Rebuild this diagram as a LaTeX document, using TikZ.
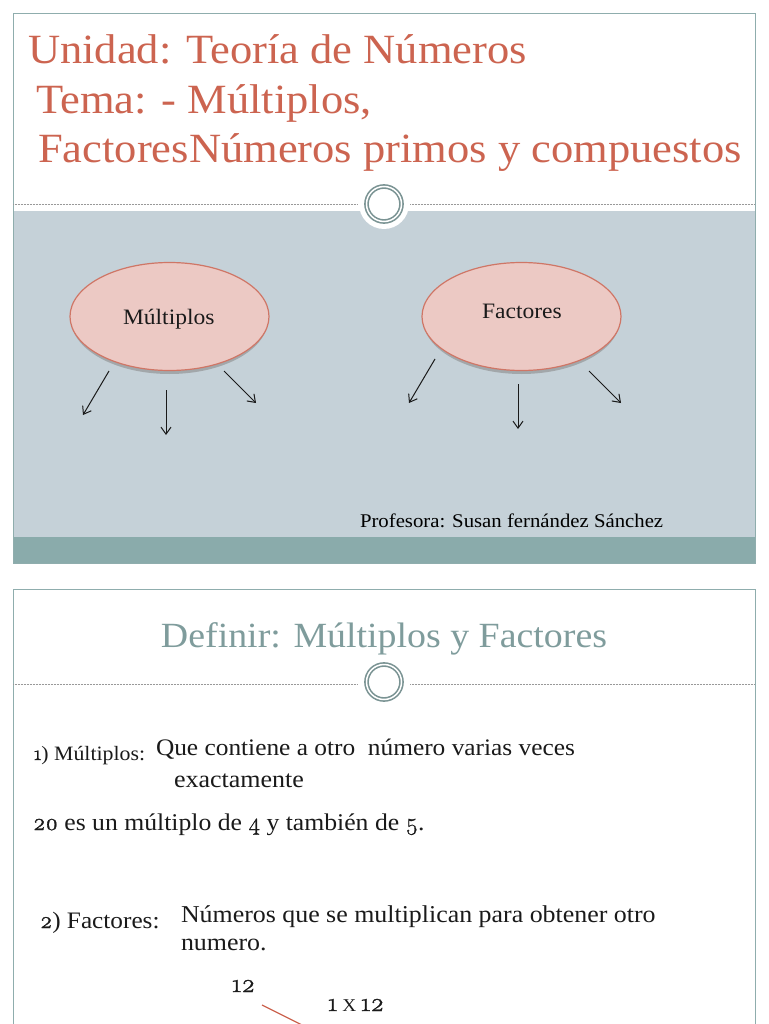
\documentclass[tikz,border=0pt]{standalone}
\usepackage{fontspec}
\setmainfont{Liberation Serif}[FakeStretch=1.07]
\newfontfamily\lmold{Latin Modern Roman}[Numbers=OldStyle,FakeBold=1.2]
\usetikzlibrary{arrows.meta,shapes.geometric}
\definecolor{titlered}{HTML}{CC6450}
\definecolor{titleteal}{HTML}{7F9C9C}
\definecolor{framecol}{HTML}{8FADAD}
\definecolor{panel}{HTML}{C5D1D8}
\definecolor{band}{HTML}{8AABAB}
\definecolor{ovalfill}{HTML}{ECC9C4}
\definecolor{ovaledge}{HTML}{CF7666}
\definecolor{ink}{HTML}{1A1A1A}
\newcommand{\onum}[1]{{\lmold #1}}
\newcommand{\bnum}[1]{{\fontsize{26}{26}\lmold #1}}
\tikzset{
  slideframe/.style={draw=framecol,line width=0.8pt,fill=white},
  dotline/.style={draw=black!40,line width=0.5pt,densely dotted},
  halo/.style={circle,fill=white,minimum size=50pt,inner sep=0pt},
  ring/.style={circle,draw=framecol!85!black,line width=1.6pt,double=white,double distance=1.5pt,fill=white,minimum size=#1,inner sep=0pt},
  oval/.style={ellipse,fill=ovalfill,draw=ovaledge,line width=1.2pt,minimum width=199pt,minimum height=108pt,inner sep=0pt},
  ovalshadow/.style={ellipse,fill=black!45,minimum width=197pt,minimum height=110pt,inner sep=0pt,opacity=.6},
  txt/.style={anchor=base west,inner sep=0pt,outer sep=0pt,text=ink},
  bigred/.style={anchor=base west,inner sep=0pt,text=titlered,font=\fontsize{41.6}{41.6}\selectfont},
  blackarrow/.style={draw=ink,line width=1pt,-{Straight Barb[length=7pt,width=10pt]}},
}
\begin{document}
\begin{tikzpicture}[x=1pt,y=-1pt]
\useasboundingbox (0,0) rectangle (768,1024);
\clip (0,0) rectangle (768,1024);
% slide 1
\path[slideframe] (13,13) rectangle (755,563);
\fill[panel] (13,211) rectangle (755,537);
\fill[band] (13,537) rectangle (755,563);
\draw[framecol,line width=0.8pt] (13,13) rectangle (755,563);
\coordinate (d1a) at (13,204); \coordinate (d1b) at (358,204);
\coordinate (d1c) at (410,204); \coordinate (d1d) at (755,204);
\draw[dotline] (d1a) -- (d1b);
\draw[dotline] (d1c) -- (d1d);
\node[halo] (halo1) at (384,204) {};
\node[ring=35pt] (ring1) at (384,204) {};
\node[bigred] (t1) at (28,64) {Unidad: Teoría de Números};
\node[bigred] (t2) at (36,114) {Tema: - Múltiplos,};
\node[bigred] (t3) at (38,163) {FactoresNúmeros primos y compuestos};
\node[ovalshadow] (s1) at (169.5,319) {};
\node[ovalshadow] (s2) at (521.5,319) {};
\node[oval] (m) at (169.5,316.5) {};
\node[oval] (f) at (521.5,316.5) {};
\node[txt,font=\fontsize{22}{22}\selectfont] (mt) at (123,324) {Múltiplos};
\node[txt,font=\fontsize{22}{22}\selectfont] (ft) at (482,318) {Factores};
\coordinate (a1s) at (109,371); \coordinate (a1e) at (83,415);
\coordinate (a2s) at (166,390); \coordinate (a2e) at (166,435);
\coordinate (a3s) at (224,371); \coordinate (a3e) at (256,403);
\coordinate (b1s) at (435,359); \coordinate (b1e) at (409,403);
\coordinate (b2s) at (518,384); \coordinate (b2e) at (518,429);
\coordinate (b3s) at (589,371); \coordinate (b3e) at (621,403);
\draw[blackarrow] (a1s) -- (a1e);
\draw[blackarrow] (a2s) -- (a2e);
\draw[blackarrow] (a3s) -- (a3e);
\draw[blackarrow] (b1s) -- (b1e);
\draw[blackarrow] (b2s) -- (b2e);
\draw[blackarrow] (b3s) -- (b3e);
\node[txt,text=black,font=\fontsize{19.4}{19.4}\selectfont] (prof) at (360,527) {Profesora: Susan fernández Sánchez};
% slide 2
\path[slideframe] (13,589) rectangle (755,1040);
\coordinate (d2a) at (13,684); \coordinate (d2b) at (358,684);
\coordinate (d2c) at (410,684); \coordinate (d2d) at (755,684);
\draw[dotline] (d2a) -- (d2b);
\draw[dotline] (d2c) -- (d2d);
\node[ring=35pt] (ring2) at (384,682) {};
\node[anchor=base,inner sep=0pt,text=titleteal,font=\fontsize{35.4}{35.4}\selectfont] (t4) at (384,647) {Definir: Múltiplos y Factores};
\node[txt,font=\fontsize{20.4}{20.4}\selectfont] (l1) at (34,760) {\onum{1}) Múltiplos:};
\node[txt,font=\fontsize{23.7}{23.7}\selectfont] (l2) at (156,755) {Que contiene a otro\ \ número varias veces};
\node[txt,font=\fontsize{24.3}{24.3}\selectfont] (l3) at (174,787) {exactamente};
\node[txt,font=\fontsize{24}{24}\selectfont] (l4) at (33,830) {\onum{20} es un múltiplo de \onum{4} y también de \onum{5}.};
\node[txt,font=\fontsize{23.6}{23.6}\selectfont] (l5) at (40,928) {\onum{2}) Factores:};
\node[txt,font=\fontsize{24.2}{24.2}\selectfont] (l6) at (181,922) {Números que se multiplican para obtener otro};
\node[txt,font=\fontsize{24.2}{24.2}\selectfont] (l7) at (181,950) {numero.};
\node[txt,font=\fontsize{21}{21}\selectfont] (n12) at (232,992) {\bnum{12}};
\node[txt,font=\fontsize{18}{18}\selectfont] (n112) at (328,1011) {\bnum{1} X \bnum{12}};
\coordinate (ls) at (262,1005); \coordinate (le) at (306,1027);
\draw[titlered,line width=1.2pt] (ls) -- (le);
\end{tikzpicture}
\end{document}
